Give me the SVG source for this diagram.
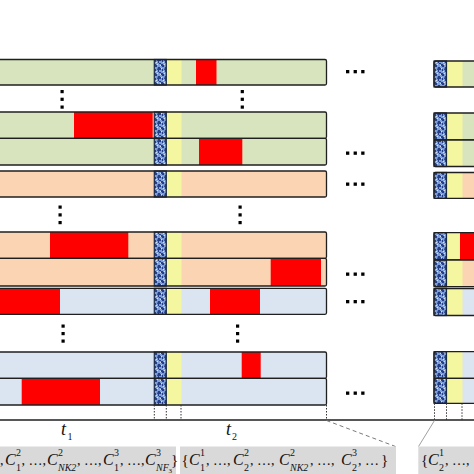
<svg xmlns="http://www.w3.org/2000/svg" width="474" height="474" viewBox="0 0 474 474">
<defs>
<pattern id="tex" width="7" height="9" patternUnits="userSpaceOnUse">
<rect width="7" height="9" fill="#7f9fd9"/>
<path d="M0 1h2v1h1v2h-2v-1h-1z M4 4h2v1h1v2h-2v2h-1v-2h-1z M5 0h2v1h-2z M1 6h1v2h-1z" fill="#263f86"/>
<path d="M3 1h1v1h-1z M0 5h1v1h-1z M6 2h1v1h-1z M2 8h1v1h-1z" fill="#d5e1f6"/>
</pattern>
<style>
.g{fill:#d7e4bd}.p{fill:#fbd4b4}.b{fill:#dbe4f1}.y{fill:#f5f6a0}.r{fill:#ff0000}
.tx{fill:url(#tex);stroke:#1a2a4a;stroke-width:1.2}
.ol{fill:none;stroke:#1f1f1f;stroke-width:1.3}
.dot{fill:#000}
.dl{stroke:#333;stroke-width:1;stroke-dasharray:1.5 1.5;fill:none}
.box{fill:#d9d9d9}
.m{font-family:"Liberation Serif","DejaVu Serif",serif;fill:#111}
.c{font-style:italic;font-size:16px}
.s{font-size:10px}
.si{font-size:10px;font-style:italic}
.pn{font-size:14px}
.br{font-size:15px}
</style>
</defs>

<!-- Left group rows -->
<g id="row1">
<rect class="g" x="-2" y="59.5" width="328.5" height="25.5"/>
<rect class="r" x="196" y="59.5" width="20.5" height="25.5"/>
<rect class="y" x="166.3" y="59.5" width="15.2" height="25.5"/>
<rect class="tx" x="154.3" y="59.5" width="12" height="25.5"/>
<rect class="ol" x="-2" y="59.5" width="328.5" height="25.5" rx="1.5"/>
</g>
<g id="row2">
<rect class="g" x="-2" y="112" width="328.5" height="26.3"/>
<rect class="r" x="74" y="112" width="78.7" height="26.3"/>
<rect class="y" x="166.3" y="112" width="15.2" height="26.3"/>
<rect class="tx" x="154.3" y="112" width="12" height="26.3"/>
<rect class="ol" x="-2" y="112" width="328.5" height="26.3" rx="1.5"/>
</g>
<g id="row3">
<rect class="g" x="-2" y="138.3" width="328.5" height="26.7"/>
<rect class="r" x="199" y="138.3" width="43.3" height="26.7"/>
<rect class="y" x="166.3" y="138.3" width="15.2" height="26.7"/>
<rect class="tx" x="154.3" y="138.3" width="12" height="26.7"/>
<rect class="ol" x="-2" y="138.3" width="328.5" height="26.7" rx="1.5"/>
</g>
<g id="row4">
<rect class="p" x="-2" y="171" width="328.5" height="26"/>
<rect class="y" x="166.3" y="171" width="15.2" height="26"/>
<rect class="tx" x="154.3" y="171" width="12" height="26"/>
<rect class="ol" x="-2" y="171" width="328.5" height="26" rx="1.5"/>
</g>
<g id="row5">
<rect class="p" x="-2" y="232" width="328.5" height="26.3"/>
<rect class="r" x="50" y="232" width="78.3" height="26.3"/>
<rect class="y" x="166.3" y="232" width="15.2" height="26.3"/>
<rect class="tx" x="154.3" y="232" width="12" height="26.3"/>
<rect class="ol" x="-2" y="232" width="328.5" height="26.3" rx="1.5"/>
</g>
<g id="row6">
<rect class="p" x="-2" y="258.3" width="328.5" height="27.7"/>
<rect class="r" x="270.7" y="258.3" width="50.3" height="27.7"/>
<rect class="y" x="166.3" y="258.3" width="15.2" height="27.7"/>
<rect class="tx" x="154.3" y="258.3" width="12" height="27.7"/>
<rect class="ol" x="-2" y="258.3" width="328.5" height="27.7" rx="1.5"/>
</g>
<g id="row7">
<rect class="b" x="-2" y="288.3" width="328.5" height="26"/>
<rect class="r" x="-2" y="288.3" width="62" height="26"/>
<rect class="r" x="210" y="288.3" width="50" height="26"/>
<rect class="y" x="166.3" y="288.3" width="15.2" height="26"/>
<rect class="tx" x="154.3" y="288.3" width="12" height="26"/>
<rect class="ol" x="-2" y="288.3" width="328.5" height="26" rx="1.5"/>
</g>
<g id="row8">
<rect class="b" x="-2" y="352" width="328.5" height="26.3"/>
<rect class="r" x="241.7" y="352" width="19" height="26.3"/>
<rect class="y" x="166.3" y="352" width="15.2" height="26.3"/>
<rect class="tx" x="154.3" y="352" width="12" height="26.3"/>
<rect class="ol" x="-2" y="352" width="328.5" height="26.3" rx="1.5"/>
</g>
<g id="row9">
<rect class="b" x="-2" y="378.3" width="328.5" height="26.7"/>
<rect class="r" x="21.7" y="378.3" width="78.3" height="26.7"/>
<rect class="y" x="166.3" y="378.3" width="15.2" height="26.7"/>
<rect class="tx" x="154.3" y="378.3" width="12" height="26.7"/>
<rect class="ol" x="-2" y="378.3" width="328.5" height="26.7" rx="1.5"/>
</g>

<!-- Right group rows -->
<g id="row1-right">
<rect class="g" x="434" y="61" width="50" height="26"/>
<rect class="y" x="446.5" y="61" width="16" height="26"/>
<rect class="tx" x="434" y="61" width="12.5" height="26"/>
<rect class="ol" x="434" y="61" width="50" height="26" rx="1.5"/>
</g>
<g id="row2-right">
<rect class="g" x="434" y="113" width="50" height="27"/>
<rect class="y" x="446.5" y="113" width="16" height="27"/>
<rect class="tx" x="434" y="113" width="12.5" height="27"/>
<rect class="ol" x="434" y="113" width="50" height="27" rx="1.5"/>
</g>
<g id="row3-right">
<rect class="g" x="434" y="140" width="50" height="26.5"/>
<rect class="y" x="446.5" y="140" width="16" height="26.5"/>
<rect class="tx" x="434" y="140" width="12.5" height="26.5"/>
<rect class="ol" x="434" y="140" width="50" height="26.5" rx="1.5"/>
</g>
<g id="row4-right">
<rect class="p" x="434" y="172.5" width="50" height="25.8"/>
<rect class="y" x="446.5" y="172.5" width="16" height="25.8"/>
<rect class="tx" x="434" y="172.5" width="12.5" height="25.8"/>
<rect class="ol" x="434" y="172.5" width="50" height="25.8" rx="1.5"/>
</g>
<g id="row5-right">
<rect class="r" x="434" y="232.7" width="50" height="27.3"/>
<rect class="y" x="446.5" y="232.7" width="13.5" height="27.3"/>
<rect class="tx" x="434" y="232.7" width="12.5" height="27.3"/>
<rect class="ol" x="434" y="232.7" width="50" height="27.3" rx="1.5"/>
</g>
<g id="row6-right">
<rect class="p" x="434" y="260" width="50" height="26.7"/>
<rect class="y" x="446.5" y="260" width="16" height="26.7"/>
<rect class="tx" x="434" y="260" width="12.5" height="26.7"/>
<rect class="ol" x="434" y="260" width="50" height="26.7" rx="1.5"/>
</g>
<g id="row7-right">
<rect class="b" x="434" y="288.5" width="50" height="27"/>
<rect class="y" x="446.5" y="288.5" width="16" height="27"/>
<rect class="tx" x="434" y="288.5" width="12.5" height="27"/>
<rect class="ol" x="434" y="288.5" width="50" height="27" rx="1.5"/>
</g>
<g id="row8-right">
<rect class="b" x="434" y="351.7" width="50" height="26.6"/>
<rect class="y" x="446.5" y="351.7" width="16" height="26.6"/>
<rect class="tx" x="434" y="351.7" width="12.5" height="26.6"/>
<rect class="ol" x="434" y="351.7" width="50" height="26.6" rx="1.5"/>
</g>
<g id="row9-right">
<rect class="b" x="434" y="378.3" width="50" height="25"/>
<rect class="y" x="446.5" y="378.3" width="16" height="25"/>
<rect class="tx" x="434" y="378.3" width="12.5" height="25"/>
<rect class="ol" x="434" y="378.3" width="50" height="25" rx="1.5"/>
</g>

<!-- Vertical ellipses -->
<g id="vdots">
<rect class="dot" x="60.5" y="90" width="3.2" height="3.2"/>
<rect class="dot" x="60.5" y="97.7" width="3.2" height="3.2"/>
<rect class="dot" x="60.5" y="105.5" width="3.2" height="3.2"/>
<rect class="dot" x="240.7" y="90" width="3.2" height="3.2"/>
<rect class="dot" x="240.7" y="97.7" width="3.2" height="3.2"/>
<rect class="dot" x="240.7" y="105.5" width="3.2" height="3.2"/>
<rect class="dot" x="58.5" y="205.5" width="3.2" height="3.2"/>
<rect class="dot" x="58.5" y="213.3" width="3.2" height="3.2"/>
<rect class="dot" x="58.5" y="221" width="3.2" height="3.2"/>
<rect class="dot" x="238.5" y="205.5" width="3.2" height="3.2"/>
<rect class="dot" x="238.5" y="213.3" width="3.2" height="3.2"/>
<rect class="dot" x="238.5" y="221" width="3.2" height="3.2"/>
<rect class="dot" x="61.5" y="324.5" width="3.2" height="3.2"/>
<rect class="dot" x="61.5" y="332" width="3.2" height="3.2"/>
<rect class="dot" x="61.5" y="339.5" width="3.2" height="3.2"/>
<rect class="dot" x="236" y="324.5" width="3.2" height="3.2"/>
<rect class="dot" x="236" y="332" width="3.2" height="3.2"/>
<rect class="dot" x="236" y="339.5" width="3.2" height="3.2"/>
</g>

<!-- Horizontal ellipses -->
<g id="hdots">
<rect class="dot" x="346" y="70" width="3.3" height="3.3"/><rect class="dot" x="353.6" y="70" width="3.3" height="3.3"/><rect class="dot" x="361.2" y="70" width="3.3" height="3.3"/>
<rect class="dot" x="346" y="151.5" width="3.3" height="3.3"/><rect class="dot" x="353.6" y="151.5" width="3.3" height="3.3"/><rect class="dot" x="361.2" y="151.5" width="3.3" height="3.3"/>
<rect class="dot" x="346" y="182.5" width="3.3" height="3.3"/><rect class="dot" x="353.6" y="182.5" width="3.3" height="3.3"/><rect class="dot" x="361.2" y="182.5" width="3.3" height="3.3"/>
<rect class="dot" x="346" y="272.5" width="3.3" height="3.3"/><rect class="dot" x="353.6" y="272.5" width="3.3" height="3.3"/><rect class="dot" x="361.2" y="272.5" width="3.3" height="3.3"/>
<rect class="dot" x="346" y="300" width="3.3" height="3.3"/><rect class="dot" x="353.6" y="300" width="3.3" height="3.3"/><rect class="dot" x="361.2" y="300" width="3.3" height="3.3"/>
<rect class="dot" x="346" y="391.5" width="3.3" height="3.3"/><rect class="dot" x="353.6" y="391.5" width="3.3" height="3.3"/><rect class="dot" x="361.2" y="391.5" width="3.3" height="3.3"/>
</g>

<!-- Connectors: baseline, dotted guides, callout lines -->
<g id="connectors">
<line x1="0" y1="420" x2="474" y2="420" stroke="#1f1f1f" stroke-width="1.3"/>
<line class="dl" x1="154.3" y1="405" x2="154.3" y2="420"/>
<line class="dl" x1="166.3" y1="405" x2="166.3" y2="420"/>
<line class="dl" x1="181" y1="405" x2="181" y2="420"/>
<line class="dl" x1="326.5" y1="405" x2="326.5" y2="420"/>
<line class="dl" x1="434.5" y1="403.3" x2="434.5" y2="420"/>
<line class="dl" x1="446.5" y1="403.3" x2="446.5" y2="420"/>
<line class="dl" x1="462" y1="403.3" x2="462" y2="420"/>
<line x1="326.5" y1="420.5" x2="395.5" y2="446.5" stroke="#7a7a7a" stroke-width="1" stroke-dasharray="4 3"/>
<line x1="434.5" y1="420.5" x2="418.5" y2="446.5" stroke="#a0a0a0" stroke-width="1"/>
</g>

<!-- Time labels -->
<g id="t1">
<text class="m" x="61" y="435" font-style="italic" font-size="18">t</text>
<text class="m s" x="67.5" y="439.5" font-size="11">1</text>
</g>
<g id="t2">
<text class="m" x="226" y="435" font-style="italic" font-size="18">t</text>
<text class="m s" x="232" y="439.5" font-size="11">2</text>
</g>

<!-- Set boxes -->
<g id="set1">
<rect class="box" x="-2" y="446.5" width="178" height="30"/>
<text class="m">
<tspan class="pn" x="0" y="465">,</tspan>
<tspan class="c" x="5" y="465">C</tspan><tspan class="s" x="16" y="456">2</tspan><tspan class="s" x="16" y="471">1</tspan>
<tspan class="pn" x="21.5" y="465">, …,</tspan>
<tspan class="c" x="47" y="465">C</tspan><tspan class="s" x="58" y="456">2</tspan><tspan class="si" x="58" y="471">NK2</tspan>
<tspan class="pn" x="77" y="465">, …,</tspan>
<tspan class="c" x="103" y="465">C</tspan><tspan class="s" x="114" y="456">3</tspan><tspan class="s" x="114" y="471">1</tspan>
<tspan class="pn" x="120" y="465">, …,</tspan>
<tspan class="c" x="145" y="465">C</tspan><tspan class="s" x="156" y="456">3</tspan><tspan class="si" x="156" y="471">NF</tspan><tspan font-size="7" x="168.5" y="473">3</tspan>
<tspan class="br" x="171" y="465">}</tspan>
</text>
</g>
<g id="set2">
<rect class="box" x="180" y="446.5" width="216" height="30"/>
<text class="m">
<tspan class="br" x="181.5" y="465">{</tspan>
<tspan class="c" x="189" y="465">C</tspan><tspan class="s" x="200" y="456">1</tspan><tspan class="s" x="200" y="471">1</tspan>
<tspan class="pn" x="206" y="465">, …,</tspan>
<tspan class="c" x="233" y="465">C</tspan><tspan class="s" x="244" y="456">2</tspan><tspan class="s" x="244" y="471">2</tspan>
<tspan class="pn" x="250" y="465">, …,</tspan>
<tspan class="c" x="279" y="465">C</tspan><tspan class="s" x="290" y="456">2</tspan><tspan class="si" x="290" y="471">NK2</tspan>
<tspan class="pn" x="310" y="465">, …,</tspan>
<tspan class="c" x="341" y="465">C</tspan><tspan class="s" x="352" y="456">3</tspan><tspan class="s" x="352" y="471">2</tspan>
<tspan class="pn" x="358" y="465">, …</tspan>
<tspan class="br" x="381" y="465">}</tspan>
</text>
</g>
<g id="set3">
<rect class="box" x="418.3" y="446.5" width="60" height="30"/>
<text class="m">
<tspan class="br" x="421" y="465">{</tspan>
<tspan class="c" x="428" y="465">C</tspan><tspan class="s" x="439" y="456">1</tspan><tspan class="s" x="439" y="471">2</tspan>
<tspan class="pn" x="445" y="465">, …,</tspan>
</text>
</g>
</svg>
